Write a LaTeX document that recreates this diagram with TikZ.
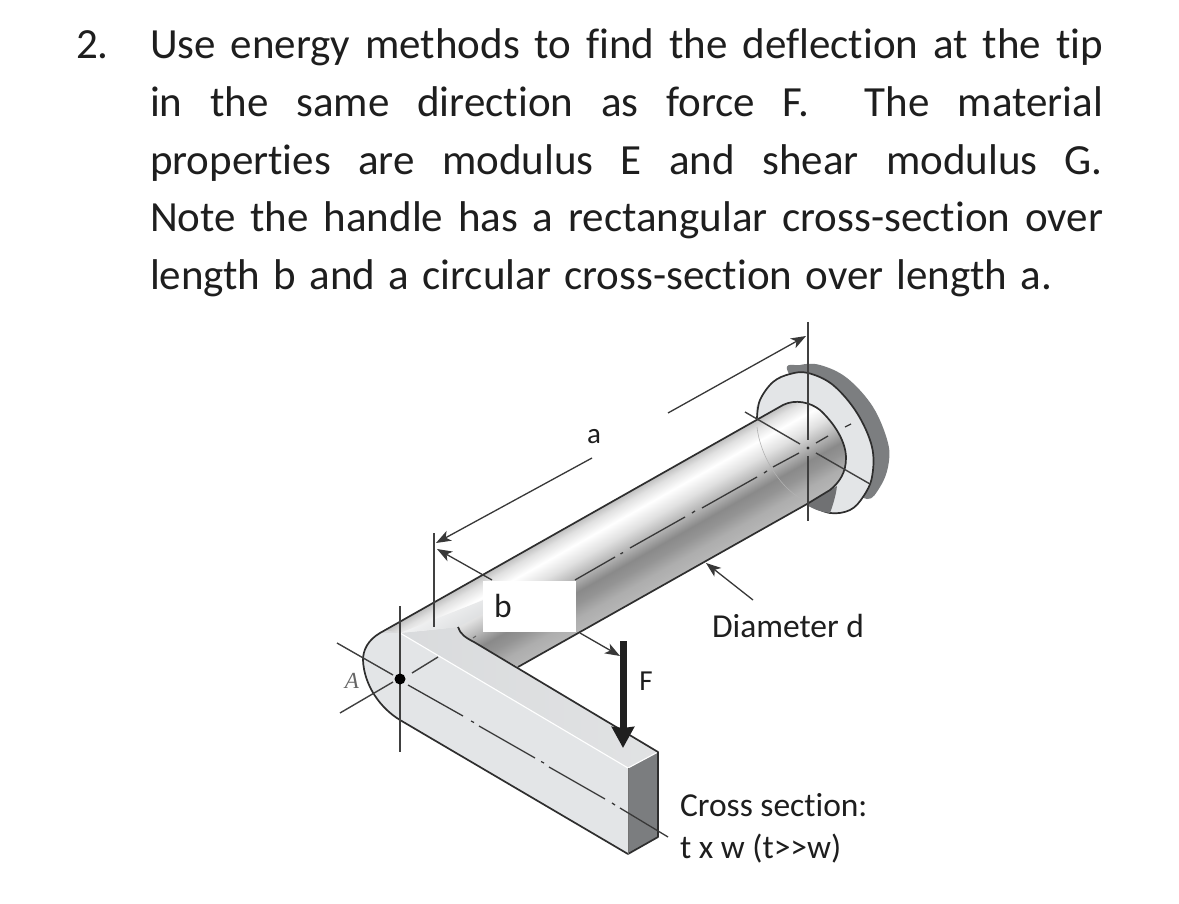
\documentclass[tikz,border=0pt]{standalone}
\usepackage{fontspec}
\setmainfont[Ligatures=NoCommon]{Carlito}
\newfontfamily\serifA{Liberation Serif}
\usetikzlibrary{arrows.meta}
\definecolor{inkc}{HTML}{1E1E1E}
\definecolor{facefront}{HTML}{E3E5E7}
\definecolor{facetop}{HTML}{D4D6D8}
\definecolor{faceend}{HTML}{7B7D7F}
\definecolor{flangedark}{HTML}{7C7E80}
\pgfdeclareverticalshading{cylshade}{100bp}{
 color(0bp)=(black!28); color(25bp)=(black!28);
 color(32.5bp)=(black!32); color(39bp)=(black!42); color(44bp)=(black!46); color(50bp)=(black!30); color(57.5bp)=(black!12);
 color(65bp)=(white); color(71bp)=(black!12); color(75bp)=(black!26); color(100bp)=(black!26)}
\tikzset{
 x=1pt,y=-1pt,
 para/.style={anchor=base west,inner sep=0pt,outer sep=0pt,font=\fontsize{43}{50}\selectfont,text=inkc},
 lab/.style={anchor=base west,inner sep=0pt,outer sep=0pt,font=\fontsize{33.5}{36}\selectfont,text=inkc},
 smalllab/.style={anchor=base,inner sep=0pt,outer sep=0pt,font=\fontsize{29}{32}\selectfont,text=inkc},
 outl/.style={draw=black!82,line width=1.7pt,line join=round},
 thin line/.style={draw=black!75,line width=1.4pt},
 dimline/.style={draw=black!78,line width=1.3pt,-{Stealth[length=15pt,width=11pt,inset=4pt]}},
 axisline/.style={draw=black!78,line width=1.3pt}
}
\begin{document}
\begin{tikzpicture}
\useasboundingbox[fill=white] (0,0) rectangle (1179,904);
% text
\node[para] (num) at (76,59) {2.};
\node[para] (t1) at (150,59) {\makebox[953pt][s]{Use energy methods to find the deflection at the tip}};
\node[para] (t2) at (150,117) {\makebox[953pt][s]{in the same direction as force F.\ \ The material}};
\node[para] (t3) at (150,175) {\makebox[953pt][s]{properties are modulus E and shear modulus G.}};
\node[para] (t4) at (150,232) {\makebox[953pt][s]{Note the handle has a rectangular cross-section over}};
\node[para] (t5) at (150,290) {\makebox[902pt][s]{length b and a circular cross-section over length a.}};
% flange
\fill[flangedark] plot[smooth cycle,tension=0.6] coordinates {(788,372)(800,365)(820,365)(847,378)(873,407)(888,443)(888,467)(880,487)(867,499)(845,480)(830,430)};
\fill[facefront] plot[smooth cycle,tension=0.6] coordinates {(757,418)(760,400)(773,382)(790,374)(808,373)(833,385)(857,413)(872,447)(872,477)(863,497)(850,510)(830,513)(807,504)(780,470)};
\draw[outl] plot[smooth,tension=0.6] coordinates {(757,418)(760,400)(773,382)(790,374)(808,373)(833,385)(857,413)(872,447)(872,477)(863,497)(850,510)(830,513)(807,504)};
\fill[flangedark!90!black] (805,504) -- (837,486) .. controls (836,495) and (833,505) .. (830,513) .. controls (822,512) and (815,510) .. (807,505) -- cycle;
% handle top face base
\shade[left color=facetop!90!white,right color=facetop!70!white]
 (380,633) -- (440,599) -- (458,627) .. controls (460,634) and (466,638) .. (474,642) -- (658,752) -- (628,768) -- (400,633) -- cycle;
% front face
\fill[facefront] (380,633) .. controls (368,640) and (363,650) .. (363,660) .. controls (364,685) and (380,708) .. (400,720) -- (628,854) -- (628,768) -- (400,633) -- cycle;
% end face
\fill[faceend] (628,768) -- (658,752) -- (658,837) -- (628,854) -- cycle;
% cylinder
\begin{scope}
\clip (385,630) -- (783,405) .. controls (795,399) and (810,402) .. (820,410) .. controls (835,424) and (846,442) .. (846,458) .. controls (846,472) and (840,482) .. (830,490) -- (807,504) -- (518,667) -- (474,642) .. controls (466,638) and (460,634) .. (458,627) -- (400,633) -- cycle;
\shade[shading=cylshade,transform canvas={shift={(808,447.5)},rotate=29.5}] (-520,-50) rectangle (60,50);
\end{scope}
% blend of the bend into the top face
\shade[top color=white,bottom color=facetop!90!white,shading angle=30] (400,633) -- (486,599) -- (486,612) -- (458,627) -- cycle;
% faint seam
\draw[black!30,line width=0.6pt] (757,427) .. controls (760,455) and (780,490) .. (807,502);
% white edges
\draw[white,line width=1.1pt] (400,633) -- (628,768) -- (658,752);
% outlines
\draw[outl] (400,720) .. controls (380,708) and (364,685) .. (363,660) .. controls (363,650) and (368,640) .. (380,633) -- (783,405) .. controls (795,399) and (810,402) .. (820,410) .. controls (835,424) and (846,442) .. (846,458) .. controls (846,472) and (840,482) .. (830,490) -- (807,504) -- (518,667);
\draw[outl] (458,627) .. controls (460,634) and (466,638) .. (474,642) -- (658,752) -- (658,837) -- (628,854) -- (400,720);
\draw[black!55,line width=0.8pt] (628,768) -- (628,854);
% centre lines
\draw[axisline] (575,580) -- (615,557) (620.5,554) -- (623,552.5) (630,548) -- (685,517) (692,513) -- (695,511) (702,508) -- (757,477) (764,473) -- (767,471) (773,467) -- (799,453) (816,443) -- (828,436) (845,427) -- (851,424);
\draw[axisline,black!60,line width=1pt] (473,638) -- (476,636);
\draw[axisline] (408,685) -- (463,716) (471,721) -- (474,722.5) (479,726) -- (535,758) (541,761.5) -- (544,763) (549,767) -- (605,799) (612,803) -- (615,805) (620,808) -- (668,837);
% dimension and cross lines
\coordinate (ca1) at (745,412); \coordinate (ca2) at (800,444);
\coordinate (ca3) at (816,453); \coordinate (ca4) at (870,484);
\draw[thin line] (ca1) -- (ca2) (ca3) -- (ca4);
\coordinate (v1) at (808,322); \coordinate (v2) at (808,440);
\coordinate (v3) at (808,456); \coordinate (v4) at (808,521);
\draw[thin line] (v1) -- (v2) (v3) -- (v4);
\fill[black!85] (808,448) circle (1.6);
\coordinate (cl1) at (337,643); \coordinate (cl2) at (393,675);
\coordinate (cl3) at (340,713); \coordinate (cl4) at (393,682);
\coordinate (cl5) at (412,673); \coordinate (cl6) at (438,657);
\draw[thin line] (cl1) -- (cl2) (cl3) -- (cl4) (cl5) -- (cl6);
\coordinate (vl1) at (400,606); \coordinate (vl2) at (400,752);
\draw[thin line] (vl1) -- (vl2);
\coordinate (vb1) at (434,533); \coordinate (vb2) at (434,627);
\draw[thin line] (vb1) -- (vb2);
\node[circle,fill=black,inner sep=0pt,minimum size=11pt] (dotA) at (400,679) {};
\node[anchor=base,inner sep=0pt,text=black!60,font=\fontsize{23}{25}\selectfont\serifA\itshape] (labA) at (352,688) {A};
% dimension a
\coordinate (a1) at (592,458); \coordinate (a2) at (436,543);
\coordinate (a3) at (668,413); \coordinate (a4) at (806,336);
\draw[dimline] (a1) -- (a2);
\draw[dimline] (a3) -- (a4);
\node[smalllab] (laba) at (594,443) {a};
% dimension b
\node[fill=white,inner sep=0pt,minimum width=93pt,minimum height=51pt] (bbox) at (529,606.5) {};
\node[lab] (labb) at (494,617) {b};
\coordinate (b1) at (492,580); \coordinate (b2) at (437,549);
\coordinate (b3) at (580,633); \coordinate (b4) at (620,656);
\draw[dimline] (b1) -- (b2);
\draw[dimline] (b3) -- (b4);
% force F
\coordinate (f1) at (623,641); \coordinate (f2) at (623,748);
\draw[draw=black!88,line width=7pt,-{Triangle[length=21pt,width=22pt,inset=1pt]}] (f1) -- (f2);
\node[smalllab] (labF) at (646,690) {F};
% diameter
\node[lab] (labd) at (712,637) {Diameter d};
\coordinate (d2) at (706,563); \coordinate (d3) at (753,600);
\draw[dimline] (d3) -- (d2);
% cross section
\node[lab] (labc1) at (680,816) {Cross section:};
\node[lab] (labc2) at (680,858) {t x w (t>{}>w)};
\end{tikzpicture}
\end{document}
